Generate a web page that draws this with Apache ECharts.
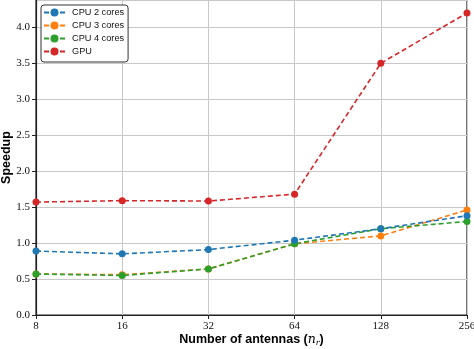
<!DOCTYPE html>
<html><head><meta charset="utf-8">
<script src="https://cdn.jsdelivr.net/npm/echarts@6/dist/echarts.min.js"></script>
<style>html,body{margin:0;padding:0;background:#fff}#c{width:474px;height:349px}</style>
</head><body><div id="c"></div>
<script>
const categories = ['8','16','32','64','128','256'];
const cpu2 = [0.89, 0.85, 0.91, 1.04, 1.20, 1.38];
const cpu3 = [0.57, 0.56, 0.64, 0.99, 1.10, 1.46];
const cpu4 = [0.57, 0.55, 0.64, 0.99, 1.20, 1.30];
const gpu = [1.57, 1.59, 1.585, 1.68, 3.50, 4.20];
const seriesNames = ['CPU 2 cores','CPU 3 cores','CPU 4 cores','GPU'];
const colors = ['#1f77b4','#ff7f0e','#2ca02c','#d62728'];
const values = [cpu2, cpu3, cpu4, gpu];

const chart = echarts.init(document.getElementById('c'));
chart.setOption({
  animation:false,
  grid:{left:36,right:7,top:0,bottom:34,containLabel:false,outerBoundsMode:'none',
    show:true,borderColor:'#222',borderWidth:1.2,backgroundColor:'transparent'},
  legend:{
    left:41, top:5, orient:'vertical', itemGap:4, itemWidth:21, itemHeight:10,
    backgroundColor:'#fff', borderColor:'#333', borderWidth:1, borderRadius:3,
    padding:[3,4,6,2],
    textStyle:{fontFamily:'Liberation Sans', fontSize:9.2, color:'#111', padding:[0,0,0,2]},
    data:seriesNames
  },
  xAxis:{
    type:'category', data:categories, boundaryGap:false,
    name:'{b|Number of antennas (}{i|n}{s|r}{b|)}', nameLocation:'middle', nameGap:17,
    nameMoveOverlap:false,
    nameTextStyle:{verticalAlign:'top', rich:{
      b:{fontFamily:'Liberation Sans', fontWeight:'bold', fontSize:12.5, color:'#000'},
      i:{fontFamily:'DejaVu Serif', fontStyle:'italic', fontSize:12.5, color:'#000'},
      s:{fontFamily:'DejaVu Serif', fontStyle:'italic', fontSize:8, color:'#000', padding:[7,0,0,0]}
    }},
    axisLine:{lineStyle:{color:'#222',width:1.2}},
    axisTick:{show:true,alignWithLabel:true,length:4,lineStyle:{color:'#222'}},
    axisLabel:{fontFamily:'Liberation Serif', fontSize:11, color:'#111', margin:6},
    splitLine:{show:true,lineStyle:{color:'#c8c8c8',width:1}}
  },
  yAxis:{
    type:'value', min:0, max:4.38, interval:0.5,
    name:'Speedup', nameLocation:'middle', nameGap:23, nameMoveOverlap:false,
    nameTextStyle:{fontFamily:'Liberation Sans', fontWeight:'bold', fontSize:12.5, color:'#000'},
    axisLine:{show:true,lineStyle:{color:'#222',width:1.2}},
    axisTick:{show:true,length:4,lineStyle:{color:'#222'}},
    axisLabel:{fontFamily:'Liberation Serif', fontSize:11, color:'#111', margin:6, showMaxLabel:false,
      formatter:v=>v.toFixed(1)},
    splitLine:{show:true,lineStyle:{color:'#c8c8c8',width:1}}
  },
  series: values.map((d,i)=>({
    name:seriesNames[i], type:'line', data:d, symbol:'circle', symbolSize:7,
    color:colors[i],
    lineStyle:{type:[5,3], width:1.6, color:colors[i]},
    itemStyle:{color:colors[i]},
    z: 10 - (i===1?3:i)
  }))
});
</script></body></html>
